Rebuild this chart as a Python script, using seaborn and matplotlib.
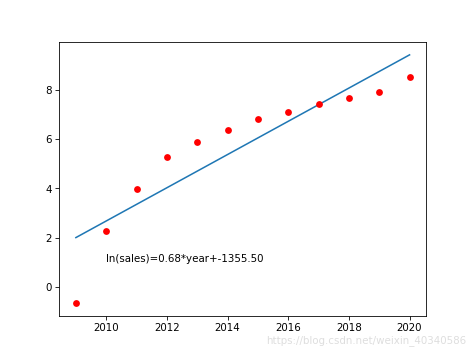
import matplotlib
matplotlib.use('Agg')
import matplotlib.pyplot as plt
import seaborn as sns
import numpy as np

# data
years = np.array([2009, 2010, 2011, 2012, 2013, 2014, 2015, 2016, 2017, 2018, 2019, 2020])
ln_sales = np.array([-0.68, 2.25, 3.97, 5.27, 5.89, 6.37, 6.83, 7.10, 7.44, 7.68, 7.92, 8.52])
eq_label = 'ln(sales)=0.68*year+-1355.50'
watermark = 'https://blog.csdn.net/weixin_40340586'

# least squares line through the points
coef = np.polyfit(years, ln_sales, 1)
fit = np.polyval(coef, years)

fig = plt.figure(figsize=(6.4, 4.8), dpi=74)
ax = fig.add_subplot(111)

sns.scatterplot(x=years, y=ln_sales, color='red', s=44, linewidth=0, ax=ax, zorder=3)
sns.lineplot(x=years, y=fit, color='#1f77b4', linewidth=1.5, ax=ax, zorder=2)

ax.text(2010, 1.0, eq_label, fontsize=10)

fig.text(0.985, 0.04, watermark, ha='right', va='center', fontsize=10,
         color='#dedede')

plt.savefig('out.png', dpi=74)
plt.close()
